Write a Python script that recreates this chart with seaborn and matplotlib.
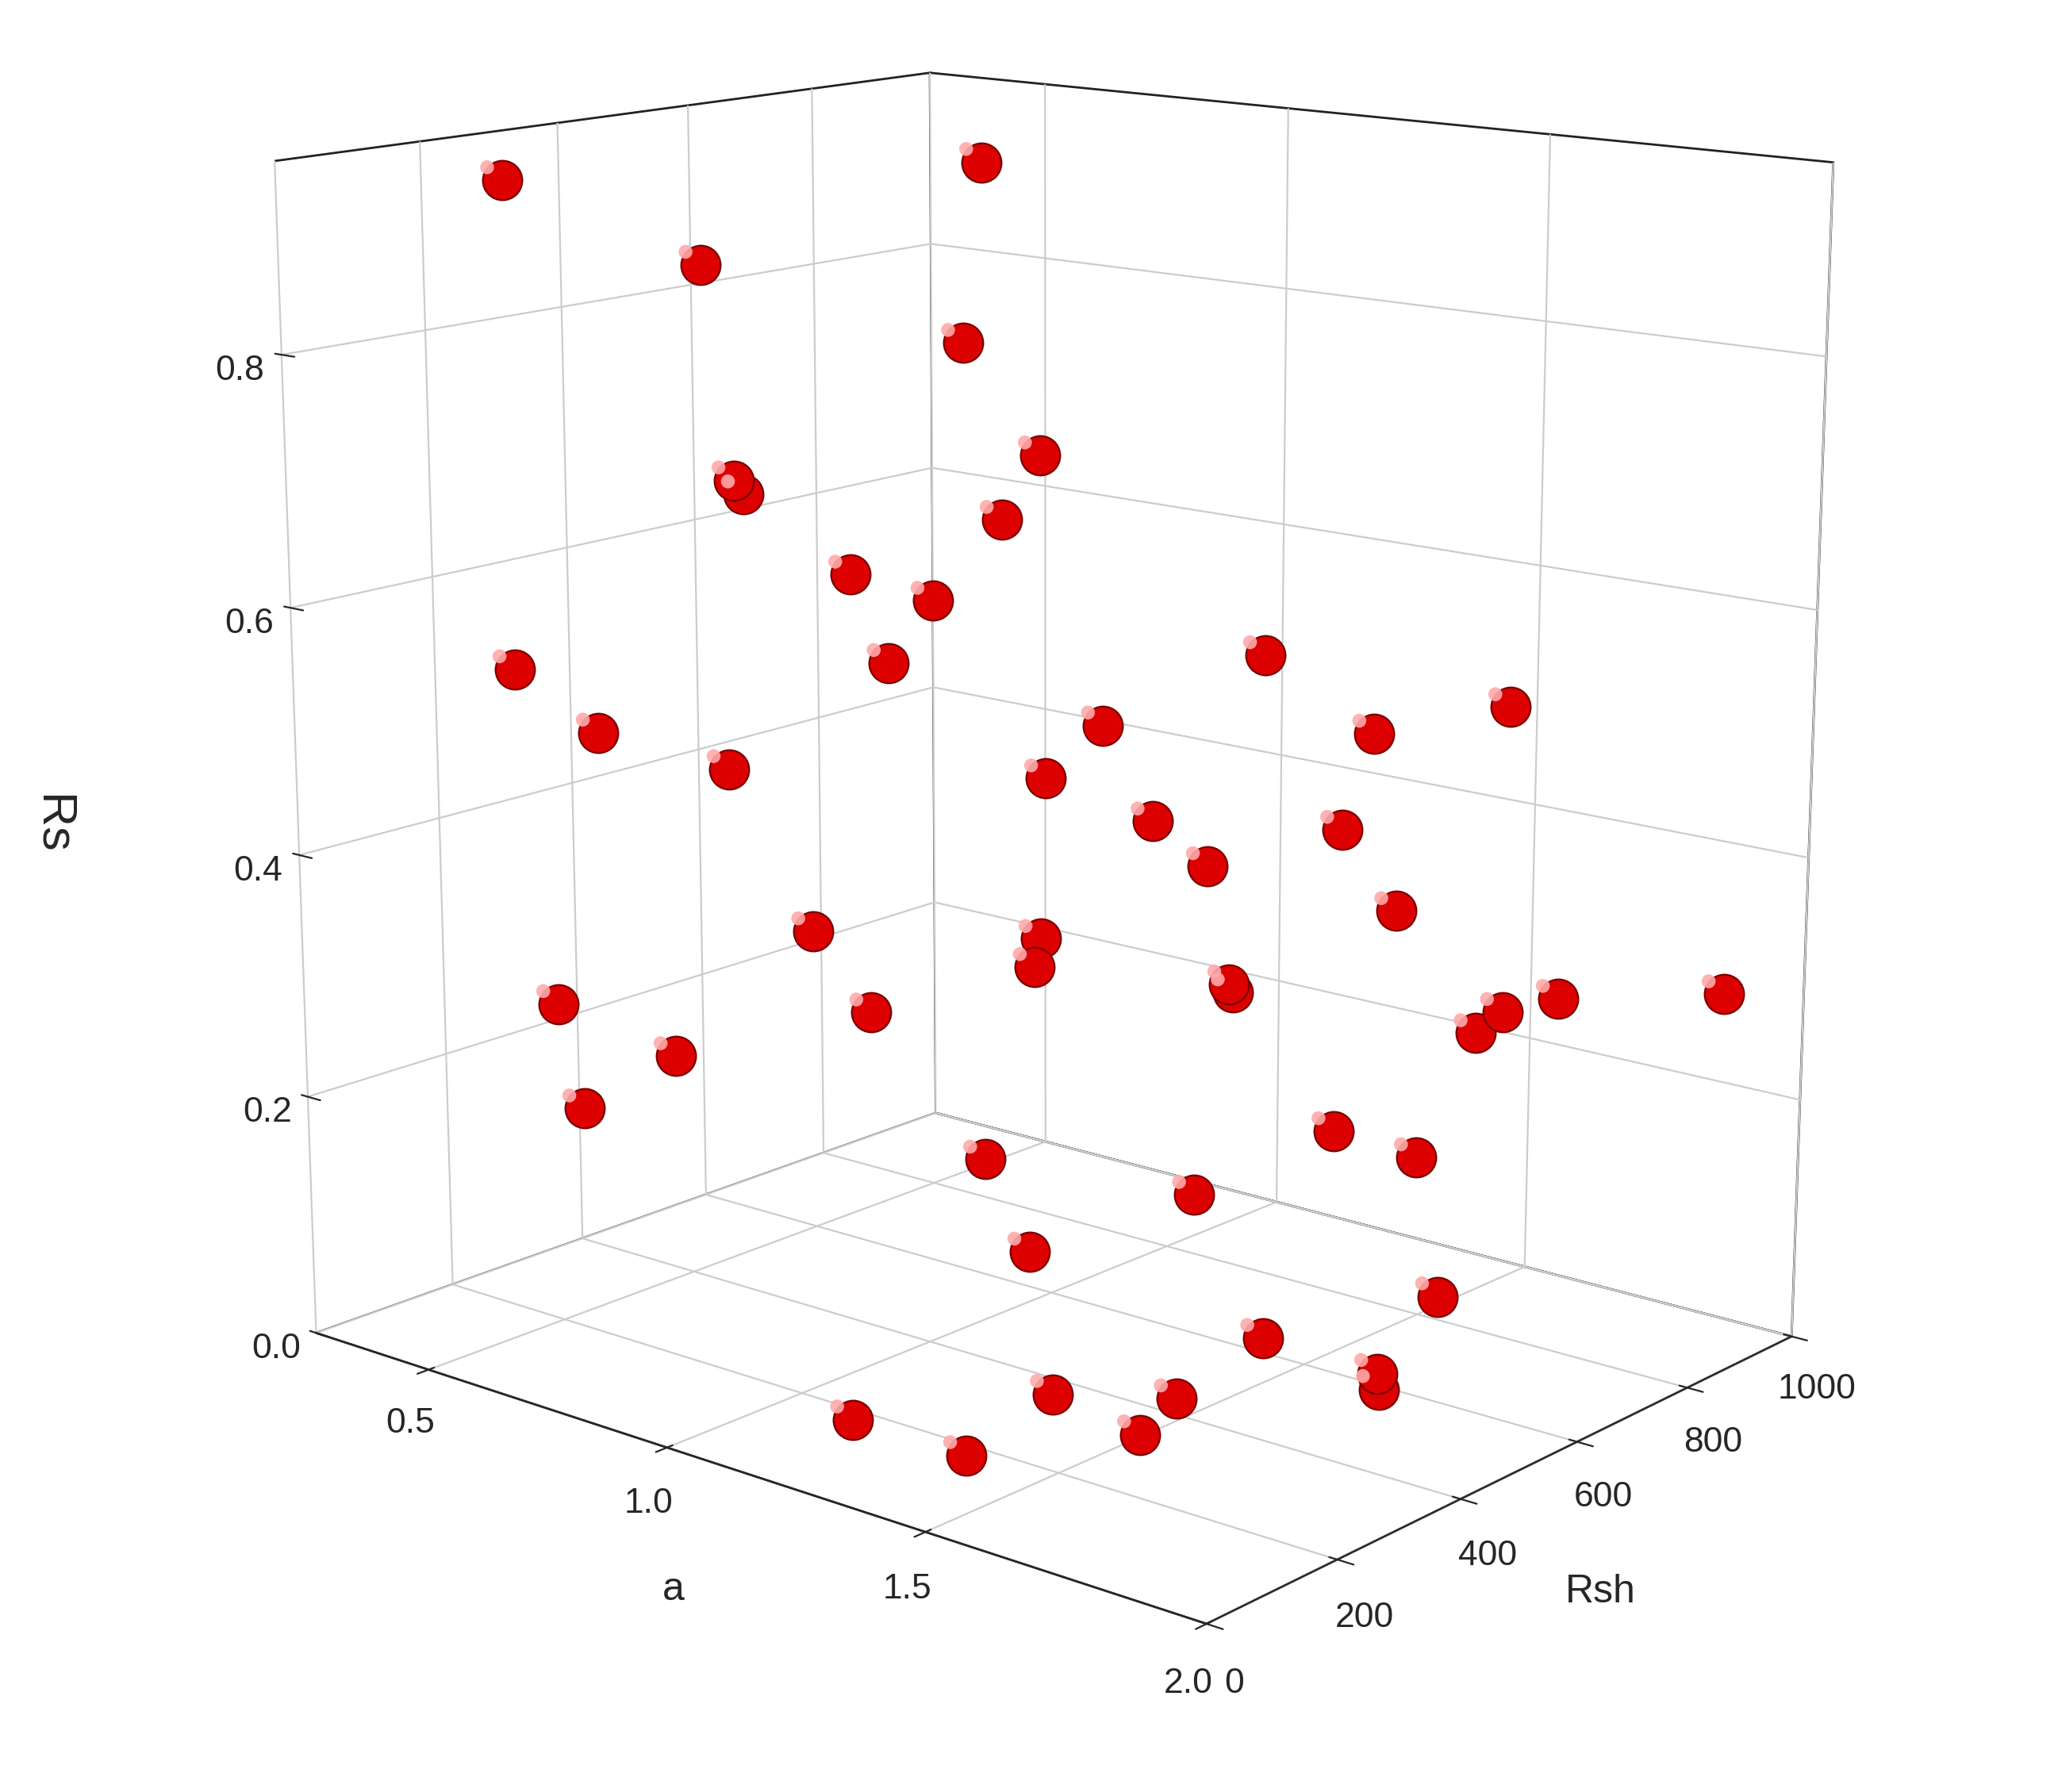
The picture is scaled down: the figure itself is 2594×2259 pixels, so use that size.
import numpy as np
import pandas as pd
import seaborn as sns
import matplotlib
matplotlib.use("Agg")
import matplotlib.pyplot as plt

a_vals = [0.35, 0.55, 0.95, 1.05, 0.75, 0.70, 0.85, 1.10, 0.95, 0.90, 1.00, 1.15, 1.30,
          0.60, 0.50, 0.80, 1.20, 1.05, 1.25, 1.40, 0.90, 1.10, 1.15, 1.30, 1.45, 1.55,
          0.65, 0.75, 0.95, 1.05, 1.35, 1.50, 1.60, 1.70, 0.70, 1.20, 1.40, 1.55, 1.65,
          1.75, 1.60, 1.70, 1.85, 1.80, 1.95, 1.55, 1.65, 1.85, 1.30, 1.45]
rsh_vals = [250, 400, 500, 450, 300, 350, 400, 500, 450, 420, 520, 560, 700,
            200, 150, 250, 600, 550, 650, 800, 300, 500, 450, 650, 700, 900,
            100, 200, 350, 450, 600, 750, 800, 850, 100, 400, 500, 600, 650,
            700, 300, 350, 500, 450, 900, 150, 200, 400, 50, 100]
rs_vals = [0.92, 0.85, 0.80, 0.95, 0.70, 0.68, 0.62, 0.72, 0.60, 0.55, 0.66, 0.50, 0.55,
           0.50, 0.55, 0.48, 0.42, 0.45, 0.38, 0.48, 0.35, 0.33, 0.32, 0.28, 0.42, 0.50,
           0.30, 0.25, 0.28, 0.15, 0.30, 0.35, 0.25, 0.28, 0.22, 0.10, 0.15, 0.20, 0.18,
           0.30, 0.05, 0.10, 0.12, 0.05, 0.30, 0.08, 0.05, 0.08, 0.05, 0.03]

df = pd.DataFrame({"a": a_vals, "Rsh": rsh_vals, "Rs": rs_vals})

sns.set_style("white")
plt.rcParams['font.family'] = ['Liberation Sans', 'DejaVu Sans']

fig = plt.figure(figsize=(12.97, 11.295), dpi=200)
ax = fig.add_subplot(111, projection="3d")
ax.set_proj_type("persp", focal_length=0.55)
ax.view_init(elev=14, azim=-50)
ax.set_box_aspect((1.45, 1.2, 1.5), zoom=1.05)

for axis in (ax.xaxis, ax.yaxis, ax.zaxis):
    axis.set_pane_color((1, 1, 1, 1))
    axis.pane.set_edgecolor("#222222")
    axis._axinfo["grid"]["color"] = "#cccccc"
    axis._axinfo["grid"]["linewidth"] = 0.8
    axis._axinfo["axisline"]["color"] = "black"
    axis._axinfo["axisline"]["linewidth"] = 2
ax.zaxis._axinfo["juggled"] = (1, 0, 2)

ax.scatter(df["a"], df["Rsh"], df["Rs"], s=320, c="#dd0000", edgecolors="#770000",
           linewidths=0.8, depthshade=False, alpha=1)
ax.scatter(df["a"] - 0.02, df["Rsh"] - 8, df["Rs"] + 0.01, s=40, c="#ffaaaa",
           edgecolors="none", depthshade=False, alpha=0.9)

ax.set_xlim(0.25, 2.0)
ax.set_ylim(0, 1000)
ax.set_zlim(0, 0.95)
ax.set_xticks([0.5, 1.0, 1.5, 2.0])
ax.set_yticks([0, 200, 400, 600, 800, 1000])
ax.set_zticks([0.0, 0.2, 0.4, 0.6, 0.8])
ax.set_zticklabels(["0.0", "0.2", "0.4", "0.6", "0.8"])
ax.tick_params(labelsize=16)
ax.set_xlabel("a", fontsize=18, labelpad=14)
ax.set_ylabel("Rsh", fontsize=18, labelpad=14)
ax.set_zlabel("")
fig.text(0.025, 0.54, "Rs", fontsize=22, rotation=-90, ha="center", va="center")

plt.subplots_adjust(left=0, right=1, bottom=0.06, top=1.06)
plt.savefig("out.png", dpi=200)
